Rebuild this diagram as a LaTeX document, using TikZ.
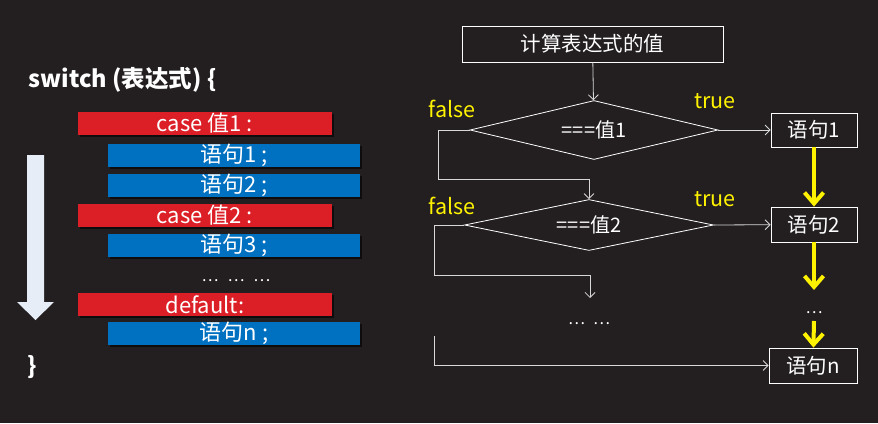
\documentclass[tikz,border=0pt]{standalone}
\usepackage{fontspec}
\setmainfont{Noto Sans CJK SC}
\usetikzlibrary{shapes.geometric,arrows.meta,shadows}

\definecolor{bgdark}{RGB}{35,31,32}
\definecolor{casered}{RGB}{220,30,38}
\definecolor{stmtblue}{RGB}{0,112,192}
\definecolor{flowgray}{RGB}{215,215,215}
\definecolor{arrowpale}{RGB}{230,237,247}

\begin{document}
\begin{tikzpicture}[x=1pt, y=-1pt,
  casebar/.style={fill=casered, text=white, minimum width=254pt, minimum height=23pt, inner sep=0pt,
    font=\fontsize{22}{22}\selectfont, drop shadow={shadow xshift=2pt, shadow yshift=-2pt, fill=black, opacity=0.6}},
  stmtbar/.style={fill=stmtblue, text=white, minimum width=252pt, minimum height=23pt, inner sep=0pt,
    font=\fontsize{22}{22}\selectfont, drop shadow={shadow xshift=2pt, shadow yshift=-2pt, fill=black, opacity=0.6}},
  box/.style={draw=white, text=white, line width=0.8pt, inner sep=0pt, font=\fontsize{20.5}{20.5}\selectfont},
  test/.style={draw=white, diamond, aspect=4, line width=0.8pt, inner sep=0pt, text=white, font=\fontsize{20}{20}\selectfont},
  flow/.style={draw=flowgray, line width=0.8pt, -{Straight Barb[length=5pt, width=10pt]}},
  go/.style={draw=yellow, line width=4pt, -{Straight Barb[length=11pt, width=19pt]}},
  branch/.style={text=yellow, font=\fontsize{21.5}{21.5}\selectfont},
  dots/.style={text=white, font=\fontsize{16}{16}\selectfont}]

\fill[bgdark] (0,0) rectangle (878,423);
\useasboundingbox (0,0) rectangle (878,423);

% left: the switch statement
\node[text=white, anchor=west, font=\fontsize{23.5}{23.5}\selectfont\bfseries] (sw) at (25,80) {switch (表达式) \{};
\fill[arrowpale] (27,155) -- (44,155) -- (44,302) -- (54,302) -- (35.5,320) -- (17,302) -- (27,302) -- cycle;

\node[casebar] (c1) at (205,123.5) {case 值1 :};
\node[stmtbar] (s1) at (234,155) {语句1 ;};
\node[stmtbar] (s2) at (234,185) {语句2 ;};
\node[casebar] (c2) at (205,215) {case 值2 :};
\node[stmtbar] (s3) at (234,245.5) {语句3 ;};
\node[dots] (ld) at (236,281) {…\hspace{9pt}…\hspace{9pt}…};
\node[casebar] (c3) at (205,304.5) {default:};
\node[stmtbar] (sn) at (234,333.5) {语句n ;};

\node[text=white, font=\fontsize{23.5}{23.5}\selectfont\bfseries] (cb) at (32,367) {\}};

% right: the flow chart
\node[box, minimum width=261pt, minimum height=36pt] (calc) at (592.5,44) {计算表达式的值};
\node[test, minimum width=248pt, minimum height=59pt] (d1) at (594,130) {===值1};
\node[test, minimum width=249pt, minimum height=51pt] (d2) at (589,225) {===值2};

\node[box, minimum width=86pt, minimum height=34pt] (b1) at (814,130) {语句1};
\node[box, minimum width=86pt, minimum height=35pt] (b2) at (814,224.5) {语句2};
\node[box, minimum width=88pt, minimum height=35pt] (bn) at (813,365.5) {语句n};

\node[branch] (f1) at (452,109) {false};
\node[branch] (t1) at (715,101) {true};
\node[branch] (f2) at (452,206) {false};
\node[branch] (t2) at (715,199) {true};

\node[dots] (md) at (589,324) {…\hspace{8pt}…};
\node[dots] (rd) at (814,313) {…};

\coordinate (k1) at (438,179);
\coordinate (k2) at (434,275);
\coordinate (e2) at (590,298);
\coordinate (k3) at (434,336);
\coordinate (y1) at (814,290);
\coordinate (y2) at (814,321);

\draw[flow] (calc) -- (d1);
\draw[flow] (d1.east) -- (b1);
\draw[flow] (d2.east) -- (b2);
\draw[flow] (d1.west) -| (k1) -| (d2.north);
\draw[flow] (d2.west) -| (k2) -| (e2);
\draw[flow] (k3) |- (bn.west);

\draw[go] (b1) -- (b2);
\draw[go] (b2) -- (y1);
\draw[go] (y2) -- (bn);

\end{tikzpicture}
\end{document}
